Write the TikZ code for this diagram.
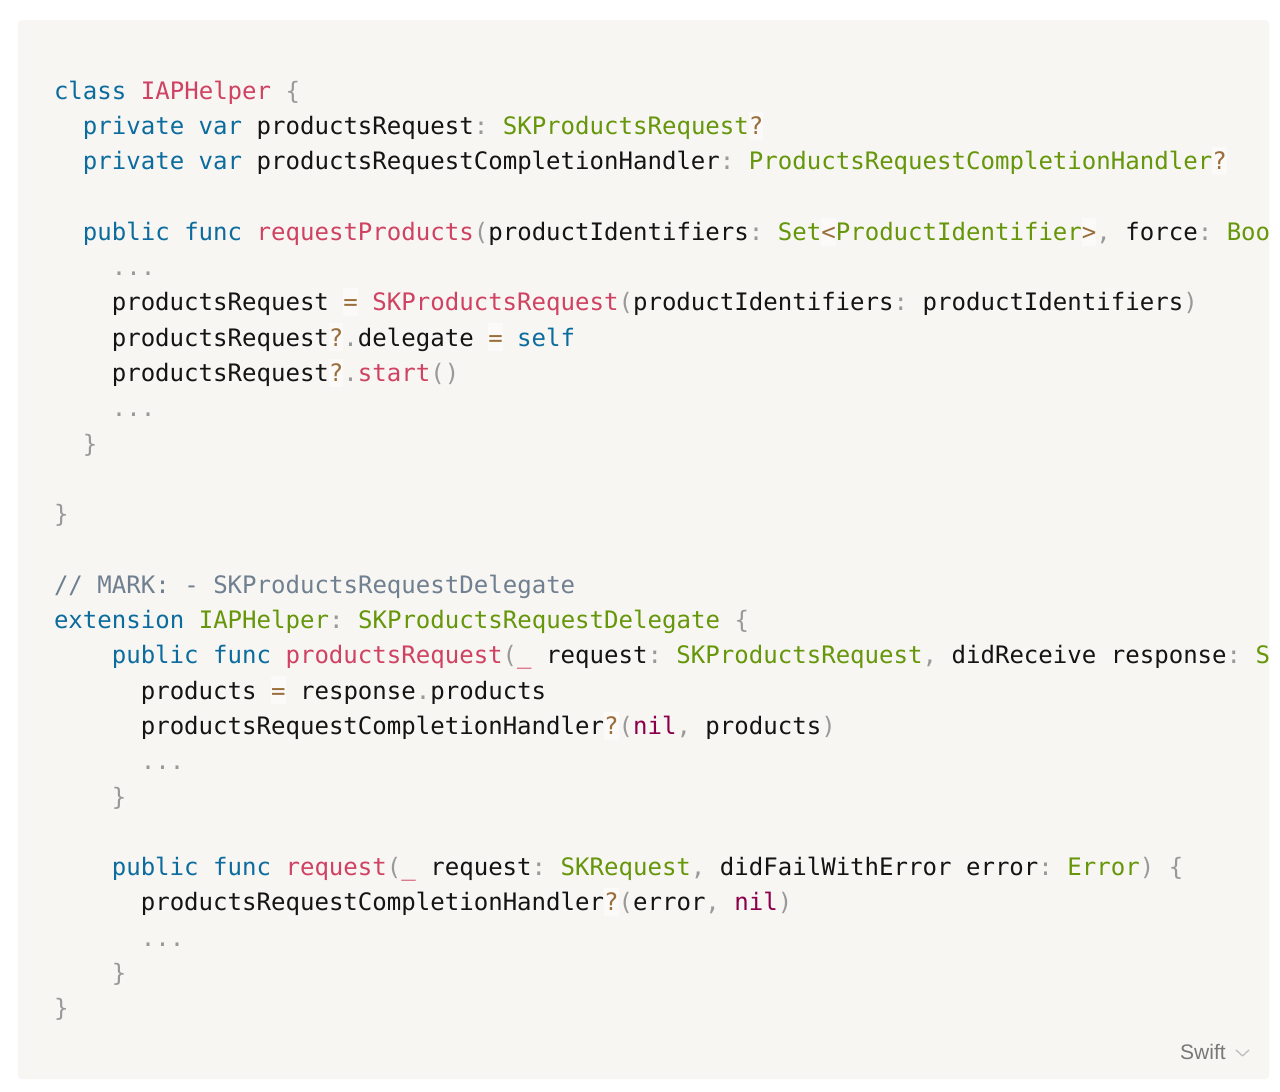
\documentclass[tikz,border=0pt]{standalone}
\usepackage{fontspec}
\setmainfont{Liberation Sans}
\newfontfamily\codefont{DejaVu Sans Mono}
\definecolor{boxbg}{RGB}{247,246,243}
\definecolor{opbg}{RGB}{251,250,249}
\definecolor{kwc}{RGB}{12,108,158}
\definecolor{fnc}{RGB}{208,66,98}
\definecolor{tyc}{RGB}{102,150,10}
\definecolor{opc}{RGB}{154,110,58}
\definecolor{puc}{RGB}{153,153,153}
\definecolor{cmc}{RGB}{112,128,144}
\definecolor{cnc}{RGB}{140,0,75}
\definecolor{txc}{RGB}{20,20,20}
\definecolor{lblc}{RGB}{120,120,120}
\definecolor{chevc}{RGB}{190,190,190}
\newcommand\kwd[1]{\textcolor{kwc}{#1}}
\newcommand\fnc[1]{\textcolor{fnc}{#1}}
\newcommand\typ[1]{\textcolor{tyc}{#1}}
\newcommand\pnc[1]{\textcolor{puc}{#1}}
\newcommand\cmt[1]{\textcolor{cmc}{#1}}
\newcommand\cst[1]{\textcolor{cnc}{#1}}
\newcommand\opr[1]{\sbox0{#1}\rlap{\color{opbg}\rule[-5.3pt]{\wd0}{28pt}}\textcolor{opc}{#1}}
\tikzset{
  code/.style={anchor=base west, inner sep=0pt, outer sep=0pt,
    font=\codefont\fontsize{24.05}{30}\selectfont\frenchspacing, text=txc},
  lang/.style={anchor=base west, inner sep=0pt, font=\fontsize{21}{24}\selectfont, text=lblc},
  chev/.style={draw=chevc, line width=1.3pt, line cap=round, line join=round}
}
\begin{document}
\begin{tikzpicture}[x=1pt,y=-1pt]
\useasboundingbox (0,0) rectangle (1280,1092);
\fill[white] (0,0) rectangle (1280,1092);
\fill[boxbg, rounded corners=4pt] (18,20) rectangle (1269,1079);
\begin{scope}
\clip (18,20) rectangle (1269,1079);
\node[code] (l1) at (54,99) {\kwd{class} \fnc{IAPHelper} \pnc{\{}};
\node[code] (l2) at (82.9,134.3) {\kwd{private} \kwd{var} productsRequest\pnc{:} \typ{SKProductsRequest}\opr{?}};
\node[code] (l3) at (82.9,169.6) {\kwd{private} \kwd{var} productsRequestCompletionHandler\pnc{:} \typ{ProductsRequestCompletionHandler}\opr{?}};
\node[code] (l5) at (82.9,240.2) {\kwd{public} \kwd{func} \fnc{requestProducts}\pnc{(}productIdentifiers\pnc{:} \typ{Set}\opr{<}\typ{ProductIdentifier}\opr{>}\pnc{,} force\pnc{:} \typ{Boo}};
\node[code] (l6) at (111.8,275.5) {\pnc{...}};
\node[code] (l7) at (111.8,310.8) {productsRequest \opr{=} \fnc{SKProductsRequest}\pnc{(}productIdentifiers\pnc{:} productIdentifiers\pnc{)}};
\node[code] (l8) at (111.8,346.1) {productsRequest\opr{?}\pnc{.}delegate \opr{=} \kwd{self}};
\node[code] (l9) at (111.8,381.4) {productsRequest\opr{?}\pnc{.}\fnc{start}\pnc{()}};
\node[code] (l10) at (111.8,416.7) {\pnc{...}};
\node[code] (l11) at (82.9,452) {\pnc{\}}};
\node[code] (l13) at (54,522.6) {\pnc{\}}};
\node[code] (l15) at (54,593.2) {\cmt{// MARK: - SKProductsRequestDelegate}};
\node[code] (l16) at (54,628.5) {\kwd{extension} \typ{IAPHelper}\pnc{:} \typ{SKProductsRequestDelegate} \pnc{\{}};
\node[code] (l17) at (111.8,663.8) {\kwd{public} \kwd{func} \fnc{productsRequest}\pnc{(}\fnc{\_} request\pnc{:} \typ{SKProductsRequest}\pnc{,} didReceive response\pnc{:} \typ{S}};
\node[code] (l18) at (140.8,699.1) {products \opr{=} response\pnc{.}products};
\node[code] (l19) at (140.8,734.4) {productsRequestCompletionHandler\opr{?}\pnc{(}\cst{nil}\pnc{,} products\pnc{)}};
\node[code] (l20) at (140.8,769.7) {\pnc{...}};
\node[code] (l21) at (111.8,805) {\pnc{\}}};
\node[code] (l23) at (111.8,875.6) {\kwd{public} \kwd{func} \fnc{request}\pnc{(}\fnc{\_} request\pnc{:} \typ{SKRequest}\pnc{,} didFailWithError error\pnc{:} \typ{Error}\pnc{)} \pnc{\{}};
\node[code] (l24) at (140.8,910.9) {productsRequestCompletionHandler\opr{?}\pnc{(}error\pnc{,} \cst{nil}\pnc{)}};
\node[code] (l25) at (140.8,946.2) {\pnc{...}};
\node[code] (l26) at (111.8,981.5) {\pnc{\}}};
\node[code] (l27) at (54,1016.8) {\pnc{\}}};
\end{scope}
\node[lang] (swift) at (1180,1059) {Swift};
\coordinate (cva) at (1236,1050);
\coordinate (cvb) at (1242.5,1056);
\coordinate (cvc) at (1249,1050);
\draw[chev] (cva) -- (cvb) -- (cvc);
\end{tikzpicture}
\end{document}
